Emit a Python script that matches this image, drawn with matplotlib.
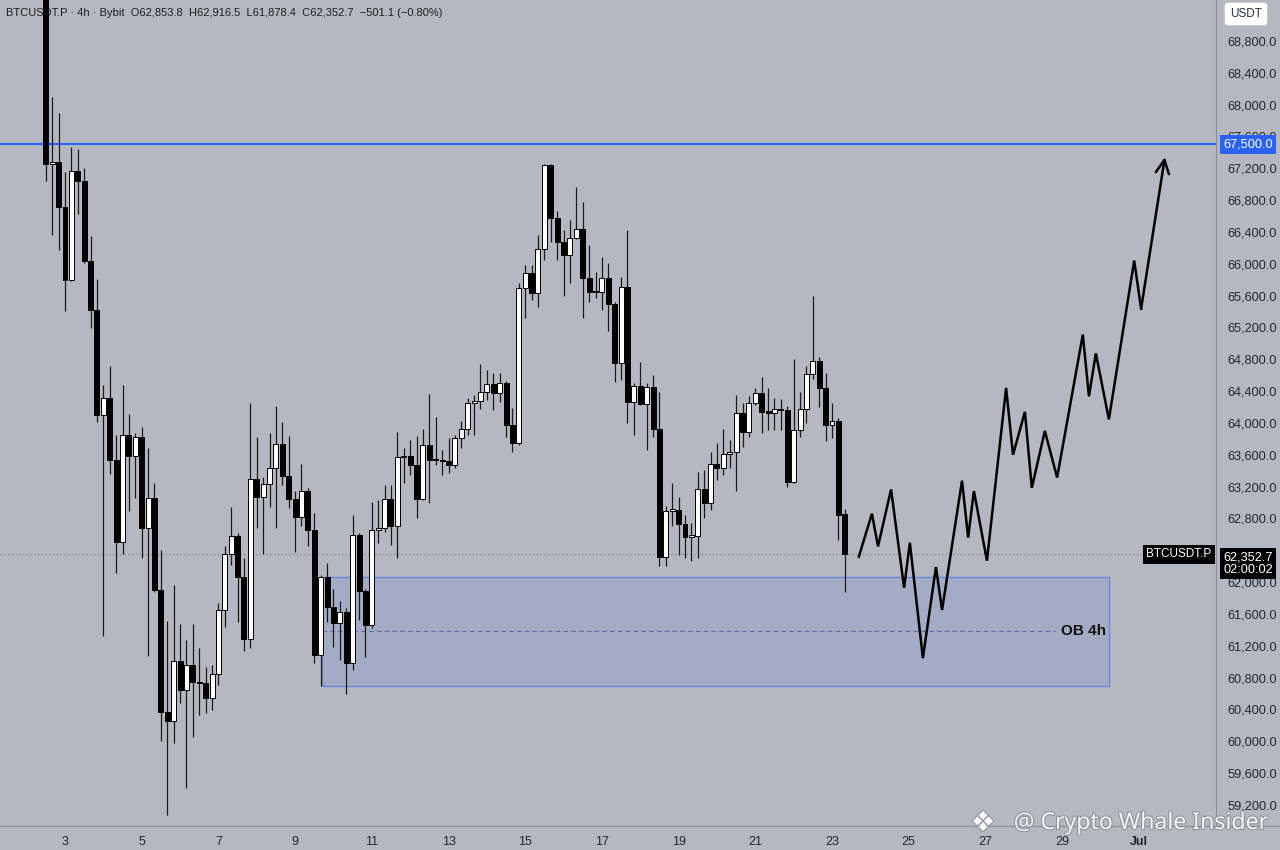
import numpy as np
import matplotlib.pyplot as plt
from matplotlib.patches import Rectangle
from matplotlib.lines import Line2D
from matplotlib.transforms import blended_transform_factory
import matplotlib.patheffects as pe

plt.rcParams['font.family'] = ['Liberation Sans', 'DejaVu Sans']

# 4h candles of BTCUSDT.P, first one opens Jun 2 12:00 (x axis = day of June)
first_candle = 2.5
opens = [69600, 67250, 67280, 66710, 65800, 67170, 67040, 66030, 65420, 64100,
         64320, 63540, 62500, 63850, 63580, 63820, 62680, 63060, 61900, 60370,
         60260, 61010, 60650, 60960, 60750, 60730, 60540, 60840, 61650, 62350,
         62580, 62060, 61280, 63290, 63070, 63230, 63430, 63740, 63330, 63040,
         62820, 63150, 62660, 61090, 62060, 61690, 61490, 61630, 60980, 62590,
         61890, 61460, 62660, 62680, 63050, 62710, 63570, 63590, 63470, 63050,
         63720, 63540, 63530, 63520, 63470, 63810, 63920, 64250, 64280, 64390,
         64490, 64380, 64500, 63980, 63750, 65690, 65880, 65630, 66180, 67240,
         66570, 66280, 66110, 66320, 66440, 65820, 65650, 65640, 65820, 65500,
         64760, 65710, 64260, 64460, 64240, 64450, 63930, 62310, 62900, 62910,
         62730, 62570, 62580, 63170, 62990, 63490, 63430, 63610, 63640, 64120,
         63890, 64250, 64380, 64140, 64130, 64170, 64160, 63260, 63910, 64170,
         64620, 64780, 64440, 63980, 64020, 62853.8]
highs = [69800, 68100, 67900, 67150, 67470, 67440, 67200, 66350, 65810, 64480,
         64720, 63850, 64480, 64110, 63880, 63950, 63680, 63250, 62410, 61510,
         61970, 61480, 61270, 61470, 61170, 60940, 60960, 61740, 62460, 62950,
         62620, 62300, 64250, 63830, 63320, 63880, 64210, 64010, 63840, 63140,
         63490, 63180, 62870, 62090, 62240, 61920, 61760, 61670, 62840, 62620,
         61920, 63010, 63030, 63220, 63220, 63890, 63680, 63790, 63840, 63930,
         64360, 64080, 63660, 63810, 63850, 64030, 64310, 64350, 64740, 64670,
         64630, 64630, 64530, 64190, 65760, 65990, 65990, 66360, 67260, 67260,
         66660, 66430, 66550, 66960, 66780, 66240, 65900, 66090, 66010, 65520,
         65840, 66430, 64500, 64770, 64500, 64600, 64390, 62960, 63240, 63070,
         62850, 62740, 63390, 63410, 63630, 63750, 63930, 63790, 64350, 64250,
         64340, 64440, 64580, 64440, 64310, 64300, 64210, 64810, 64390, 64710,
         65600, 64830, 64630, 64250, 64060, 62916.5]
lows = [67040, 66360, 66170, 65410, 65780, 66630, 66010, 65190, 64010, 61320,
        63360, 62110, 62350, 62900, 63060, 62300, 61070, 61880, 60010, 59070,
        59980, 60480, 59410, 60060, 60330, 60350, 60390, 60710, 61440, 62220,
        61500, 61130, 61170, 62680, 62360, 62950, 62680, 63220, 62930, 62380,
        62700, 62450, 60980, 60700, 61500, 61190, 61020, 60600, 60900, 61530,
        61060, 61420, 62490, 62630, 62470, 62300, 63240, 63350, 62800, 63030,
        63000, 63470, 63350, 63370, 63430, 63680, 63850, 63850, 64170, 64290,
        64160, 64270, 63820, 63630, 63720, 65320, 65550, 65460, 66050, 66280,
        66050, 65600, 65760, 66310, 65320, 65520, 65570, 65420, 65150, 64520,
        64540, 64000, 63850, 64230, 63660, 63830, 62200, 62200, 62700, 62340,
        62300, 62260, 62300, 62800, 62910, 63280, 63350, 63430, 63140, 63700,
        63830, 64230, 63870, 63910, 63910, 63910, 63200, 63240, 63830, 64000,
        64550, 64200, 63770, 63810, 62530, 61878.4]
closes = [67260, 67280, 66710, 65800, 67170, 67040, 66030, 65420, 64100, 64320,
          63540, 62500, 63850, 63580, 63820, 62680, 63060, 61900, 60370, 60260,
          61010, 60650, 60960, 60750, 60730, 60540, 60840, 61650, 62350, 62580,
          62060, 61280, 63290, 63070, 63230, 63430, 63740, 63330, 63040, 62820,
          63150, 62660, 61090, 62060, 61690, 61490, 61630, 60980, 62590, 61890,
          61460, 62660, 62680, 63050, 62710, 63570, 63590, 63470, 63050, 63720,
          63540, 63530, 63520, 63470, 63810, 63920, 64250, 64280, 64390, 64490,
          64380, 64500, 63980, 63750, 65690, 65880, 65630, 66180, 67240, 66570,
          66280, 66110, 66320, 66440, 65820, 65650, 65640, 65820, 65500, 64760,
          65710, 64260, 64460, 64240, 64450, 63930, 62310, 62900, 62910, 62730,
          62570, 62580, 63170, 62990, 63490, 63430, 63610, 63640, 64120, 63890,
          64250, 64380, 64140, 64130, 64170, 64160, 63260, 63910, 64170, 64620,
          64780, 64440, 63980, 64020, 62850, 62352.7]

# hand drawn projection (day, price)
path_days = [23.70, 24.04, 24.20, 24.54, 24.88, 25.03, 25.37, 25.71, 25.87,
             26.39, 26.55, 26.70, 27.04, 27.54, 27.72, 28.03, 28.21, 28.55,
             28.87, 29.54, 29.70, 29.88, 30.22, 30.88, 31.06, 31.68]
path_prices = [62320, 62860, 62450, 63165, 61930, 62495, 61045, 62190, 61650,
               63275, 62560, 63145, 62270, 64440, 63600, 64140, 63185, 63900,
               63315, 65110, 64335, 64875, 64045, 66040, 65435, 67340]

# 4h order block
ob_start, ob_end = 9.70, 30.22
ob_bottom, ob_top = 60696, 62065
level = 67500
last_price = 62352.7

day_ticks = [3, 5, 7, 9, 11, 13, 15, 17, 19, 21, 23, 25, 27, 29, 31]
day_labels = ['3', '5', '7', '9', '11', '13', '15', '17', '19', '21', '23',
              '25', '27', '29', 'Jul']
# 62,400 sits under the last price label, so it is left out
price_ticks = [p for p in range(59200, 68801, 400) if p != 62400]

bg = '#b5b8c0'
fig = plt.figure(figsize=(12.8, 8.5), dpi=100, facecolor=bg)
ax = fig.add_axes([0, 24 / 850, 1216 / 1280, 826 / 850])
ax.set_facecolor(bg)

o = np.array(opens)
h = np.array(highs)
l = np.array(lows)
c = np.array(closes)
t = first_candle + np.arange(len(o)) / 6

# candles
ax.vlines(t, l, h, color='#1a1a1a', lw=0.9, zorder=3)
up = c >= o
body_low = np.minimum(o, c)
body_h = np.maximum(np.abs(c - o), 18)
ax.bar(t, body_h, bottom=body_low, width=0.13,
       color=np.where(up, 'white', 'black'), edgecolor='black', lw=0.7, zorder=4)

# order block
ax.add_patch(Rectangle((ob_start, ob_bottom), ob_end - ob_start, ob_top - ob_bottom,
                       facecolor='#6f86d6', alpha=0.25, edgecolor='none', zorder=2))
ax.add_patch(Rectangle((ob_start, ob_bottom), ob_end - ob_start, ob_top - ob_bottom,
                       facecolor='none', edgecolor='#6a86dc', lw=1, zorder=2))
ob_mid = (ob_top + ob_bottom) / 2
ax.plot([ob_start, 28.81], [ob_mid, ob_mid], color='#5d6da8', lw=0.8,
        ls=(0, (4, 3)), zorder=2)
ax.text(29.55, ob_mid, 'OB 4h', ha='center', va='center', fontsize=11,
        fontweight='bold', color='#111111', zorder=5)

# levels
ax.axhline(level, color='#2962ff', lw=1.5, zorder=2)
ax.axhline(last_price, color='#80838b', lw=0.9, ls=(0, (1, 2)), zorder=1)

# projection
ax.plot(path_days[:-1], path_prices[:-1], color='black', lw=1.8,
        solid_joinstyle='miter', zorder=5)
ax.annotate('', xy=(path_days[-1], path_prices[-1]),
            xytext=(path_days[-2], path_prices[-2]),
            arrowprops=dict(arrowstyle='->', color='black', lw=1.8,
                            mutation_scale=24, shrinkA=0, shrinkB=0), zorder=5)

ax.set_xlim(1.305, 33.013)
ax.set_ylim(58936, 69315)

ax.yaxis.tick_right()
ax.set_yticks(price_ticks)
ax.set_yticklabels([f'{p:,.1f}' for p in price_ticks])
ax.set_xticks(day_ticks)
ax.set_xticklabels(day_labels)
ax.get_xticklabels()[-1].set_fontweight('bold')
ax.tick_params(axis='y', length=0, pad=8, labelsize=9.2, labelcolor='#23262f')
ax.tick_params(axis='x', length=0, pad=7, labelsize=9, labelcolor='#23262f')
for s in ['top', 'left']:
    ax.spines[s].set_visible(False)
for s in ['right', 'bottom']:
    ax.spines[s].set_color('#8c8f97')
    ax.spines[s].set_linewidth(0.8)
# bottom rule runs on under the price scale
fig.add_artist(Line2D([1216 / 1280, 1], [24 / 850, 24 / 850], color='#8c8f97',
                      lw=0.8))

# header
ax.text(0.005, 0.984, 'BTCUSDT.P · 4h · Bybit  O62,853.8  H62,916.5  L61,878.4  '
        'C62,352.7  \u2212501.1 (\u22120.80%)', transform=ax.transAxes,
        fontsize=8, color='#1e1e22', va='center', ha='left', zorder=1)

# price scale labels
tr = blended_transform_factory(ax.transAxes, ax.transData)
ax.text(1.006, level, '67,500.0', transform=tr, ha='left', va='center',
        fontsize=9.2, color='white', clip_on=False, zorder=10,
        bbox=dict(boxstyle='square,pad=0.25', fc='#2962ff', ec='none'))
ax.text(1.006, last_price - 120, '62,352.7\n02:00:02', transform=tr, ha='left',
        va='center', fontsize=9.2, color='white', clip_on=False, zorder=10,
        linespacing=1.0,
        bbox=dict(boxstyle='square,pad=0.25', fc='black', ec='none'))
ax.text(0.9965, last_price, 'BTCUSDT.P', transform=tr, ha='right', va='center',
        fontsize=8.5, color='white', clip_on=False, zorder=10,
        bbox=dict(boxstyle='square,pad=0.3', fc='black', ec='none'))
fig.text(1246 / 1280, 1 - 14 / 850, 'USDT', ha='center', va='center',
         fontsize=8.5, color='#2a2e39',
         bbox=dict(boxstyle='round,pad=0.45,rounding_size=0.3', fc='white',
                   ec='none'))

# watermark
shadow = [pe.withStroke(linewidth=1.5, foreground='#8a8d95')]
fig.text(983 / 1280, 27 / 850, '\u2756', ha='center', va='center',
         fontsize=20, color='white', alpha=0.9, family='DejaVu Sans',
         path_effects=shadow)
fig.text(1268 / 1280, 27 / 850, '@ Crypto Whale Insider', ha='right',
         va='center', fontsize=16.6, color='white', alpha=0.9,
         family=['Noto Sans', 'DejaVu Sans'], path_effects=shadow)

fig.savefig('out.png', dpi=100, facecolor=bg)
